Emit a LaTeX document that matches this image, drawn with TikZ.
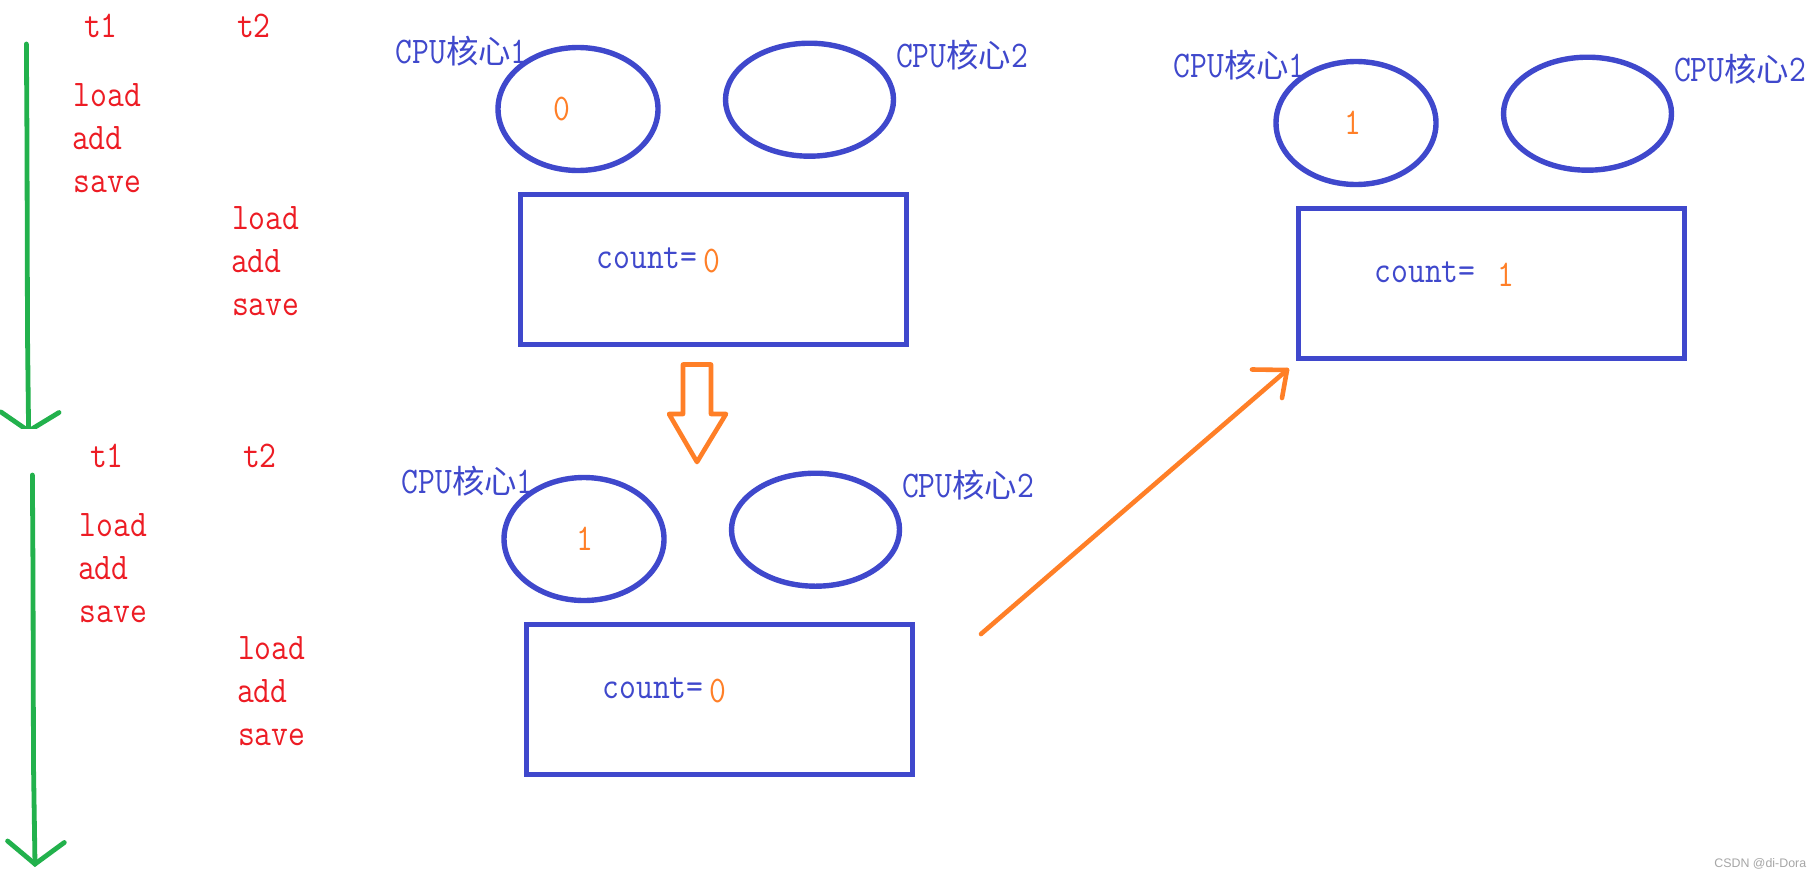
\documentclass[tikz,border=0pt]{standalone}
\usepackage{fontspec}
\usetikzlibrary{shapes.geometric}
\newfontfamily\cjk{Noto Sans CJK SC}
\newfontfamily\lat[FakeStretch=0.87]{Latin Modern Mono}
\newfontfamily\wmfont{Liberation Sans}
\definecolor{pblue}{HTML}{3F48CC}
\definecolor{pred}{HTML}{ED1C24}
\definecolor{porange}{HTML}{FF7F27}
\definecolor{pgreen}{HTML}{22B14C}
\tikzset{
  txt/.style={anchor=base west,inner sep=0pt,outer sep=0pt,font=\fontsize{18.8}{20}\selectfont\lat},
  redtxt/.style={txt,text=pred},
  bluetxt/.style={txt,text=pblue},
  oratxt/.style={txt,text=porange},
  cpu/.style={draw=pblue,line width=2.7pt,ellipse,inner sep=0pt,outer sep=0pt},
  mem/.style={draw=pblue,line width=2.7pt,rectangle,inner sep=0pt,outer sep=0pt,minimum width=193pt,minimum height=75pt},
  gline/.style={draw=pgreen,line width=2.4pt,line cap=round},
  oline/.style={draw=porange,line width=2.3pt,line cap=round,line join=round}
}
\newcommand{\cpulabel}[1]{\lat CPU{\fontsize{16.2}{20}\selectfont\cjk 核心}#1}
% #1 prefix, #2 value in core 1, #3 value in memory, #4 x of memory value, #5 x of core value
\newcommand{\cpugroup}[5]{%
  \node[cpu,minimum width=80pt,minimum height=61.5pt] (#1c1) at (578,109) {};
  \node[cpu,minimum width=84pt,minimum height=56.5pt] (#1c2) at (809.5,99.7) {};
  \node[mem] (#1mem) at (713.5,269.5) {};
  \node[bluetxt] (#1l1) at (395.5,63.3) {\cpulabel{1}};
  \node[bluetxt] (#1l2) at (896,67.7) {\cpulabel{2}};
  \node[bluetxt] (#1count) at (596.5,268.7) {count=};
  \node[oratxt] (#1v) at (#4,272.7) {#3};
  \node[oratxt] (#1k) at (#5,120.5) {#2};
}
\newcommand{\threadgroup}[1]{%
  \node[redtxt] (#1t1) at (84,37.7) {t1};
  \node[redtxt] (#1t2) at (237,37.7) {t2};
  \node[redtxt] (#1la) at (73.5,106) {load};
  \node[redtxt] (#1aa) at (72,149) {add};
  \node[redtxt] (#1sa) at (73.5,192) {save};
  \node[redtxt] (#1lb) at (232,229) {load};
  \node[redtxt] (#1ab) at (231,272) {add};
  \node[redtxt] (#1sb) at (232,315) {save};
}
\begin{document}
\begin{tikzpicture}[x=0.5pt,y=-0.5pt]
\useasboundingbox (0,0) rectangle (1818,878);
\fill[white] (0,0) rectangle (1818,878);
% time axes
\begin{scope}
  \clip (0,0) rectangle (1818,428.5);
  \coordinate (a0) at (26.4,44);
  \coordinate (a1) at (27,143);
  \coordinate (a2) at (27.5,335);
  \coordinate (a3) at (28.6,431);
  \coordinate (aw1) at (1,412);
  \coordinate (aw2) at (59,412.5);
  \draw[gline] (a0) -- (a1) -- (a2) -- (a3);
  \draw[gline] (aw1) -- (a3) -- (aw2);
\end{scope}
\coordinate (b0) at (32.4,475);
\coordinate (b1) at (33,573);
\coordinate (b2) at (33.5,765);
\coordinate (b3) at (35,864);
\coordinate (bw1) at (7.6,841);
\coordinate (bw2) at (64.3,842.5);
\draw[gline] (b0) -- (b1) -- (b2) -- (b3);
\draw[gline] (bw1) -- (b3) -- (bw2);
% threads
\threadgroup{p}
\begin{scope}[shift={(6,430)}]
  \threadgroup{q}
\end{scope}
% CPU groups
\cpugroup{g}{0}{0}{703}{553}
\begin{scope}[shift={(6,430)}]
  \cpugroup{h}{1}{0}{703}{570}
\end{scope}
\begin{scope}[shift={(778,14)}]
  \cpugroup{m}{1}{1}{719}{566}
\end{scope}
% hollow arrow
\coordinate (h1) at (683,364.5);
\coordinate (h2) at (711,364.5);
\coordinate (h3) at (711,414);
\coordinate (h4) at (726,414);
\coordinate (h5) at (697,462);
\coordinate (h6) at (669,414);
\coordinate (h7) at (683,414);
\draw[oline] (h1) -- (h2) -- (h3) -- (h4) -- (h5) -- (h6) -- (h7) -- cycle;
% long arrow
\coordinate (s0) at (981,634);
\coordinate (s1) at (1287,370);
\coordinate (s2) at (1252,369.5);
\coordinate (s3) at (1282,398);
\draw[oline] (s0) -- (s1);
\draw[oline] (s2) -- (s1) -- (s3);
% watermark
\node[anchor=base west,inner sep=0pt,text=black!35,font=\fontsize{6.2}{8}\selectfont\wmfont] (wm) at (1714,867.5) {CSDN @di-Dora};
\end{tikzpicture}
\end{document}
